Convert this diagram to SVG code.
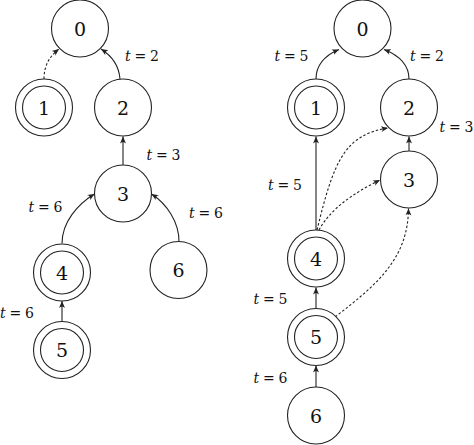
<svg xmlns="http://www.w3.org/2000/svg" width="474" height="445" viewBox="0 0 474 445">
<style>
.n{fill:#fff;stroke:#222;stroke-width:1.1}
.d{font-family:'DejaVu Serif',serif;font-size:19px;text-anchor:middle;fill:#111}
.l{font-family:'DejaVu Serif',serif;font-size:14px;fill:#111}
.e{fill:none;stroke:#222;stroke-width:1.1;marker-end:url(#ah)}
.dash{stroke-dasharray:2.5 2}
</style>
<defs>
<marker id="ah" markerUnits="userSpaceOnUse" markerWidth="8" markerHeight="8" refX="7" refY="4" orient="auto">
<path d="M0,1 Q3,4 0,7 L7,4 Z" fill="#222"/>
</marker>
</defs>
<rect width="474" height="445" fill="#fff"/>
<g id="connectors">
<path class="e dash" d="M44,79 C44,65 50,56 59,49"/>
<path class="e" d="M120,79 C119,66 112,56 101,49"/>
<path class="e" d="M123,165 L123,136.5"/>
<path class="e" d="M62,243.5 C62,222 78,204 94.5,194"/>
<path class="e" d="M179,241.5 C179,222 167,204 151.5,194"/>
<path class="e" d="M62,321.5 L62,301"/>
<path class="e" d="M316,79 C316,64 326,55 339,49.5"/>
<path class="e" d="M409,79 C409,64 398,55 384,49.5"/>
<path class="e" d="M409,151.5 L409,136.5"/>
<path class="e" d="M316,230 L316,136.5"/>
<path class="e dash" d="M317,230 C334,160 345,135 388,128"/>
<path class="e dash" d="M319,230 C330,210 350,195 380,180"/>
<path class="e dash" d="M335,317 C378,284 408,258 408.5,208.5"/>
<path class="e" d="M316,308.5 L316,287.5"/>
<path class="e" d="M316,387 L316,365.5"/>
</g>
<g id="labels">
<text class="l" x="125" y="61" textLength="34" lengthAdjust="spacing"><tspan font-style="italic">t</tspan> = 2</text>
<text class="l" x="146.5" y="160" textLength="34" lengthAdjust="spacing"><tspan font-style="italic">t</tspan> = 3</text>
<text class="l" x="28.5" y="211.5" textLength="34" lengthAdjust="spacing"><tspan font-style="italic">t</tspan> = 6</text>
<text class="l" x="189" y="217.5" textLength="34" lengthAdjust="spacing"><tspan font-style="italic">t</tspan> = 6</text>
<text class="l" x="0" y="317.5" textLength="34" lengthAdjust="spacing"><tspan font-style="italic">t</tspan> = 6</text>
<text class="l" x="274.5" y="61" textLength="34" lengthAdjust="spacing"><tspan font-style="italic">t</tspan> = 5</text>
<text class="l" x="410" y="61" textLength="34" lengthAdjust="spacing"><tspan font-style="italic">t</tspan> = 2</text>
<text class="l" x="439.5" y="131.5" textLength="34" lengthAdjust="spacing"><tspan font-style="italic">t</tspan> = 3</text>
<text class="l" x="268" y="190" textLength="34" lengthAdjust="spacing"><tspan font-style="italic">t</tspan> = 5</text>
<text class="l" x="253.5" y="303.5" textLength="34" lengthAdjust="spacing"><tspan font-style="italic">t</tspan> = 5</text>
<text class="l" x="253.5" y="382.5" textLength="34" lengthAdjust="spacing"><tspan font-style="italic">t</tspan> = 6</text>
</g>
<g id="L0"><circle class="n" cx="80" cy="28.5" r="28.5"/><text class="d" x="80" y="35.5">0</text></g>
<g id="L1"><circle class="n" cx="44" cy="107.5" r="28.5"/><circle class="n" cx="44" cy="107.5" r="21.5"/><text class="d" x="44" y="114.5">1</text></g>
<g id="L2"><circle class="n" cx="123" cy="107.5" r="28.5"/><text class="d" x="123" y="114.5">2</text></g>
<g id="L3"><circle class="n" cx="123" cy="193.5" r="28.5"/><text class="d" x="123" y="200.5">3</text></g>
<g id="L4"><circle class="n" cx="62" cy="272.5" r="28.5"/><circle class="n" cx="62" cy="272.5" r="21.5"/><text class="d" x="62" y="279.5">4</text></g>
<g id="L6"><circle class="n" cx="178.5" cy="270" r="28.5"/><text class="d" x="178.5" y="277">6</text></g>
<g id="L5"><circle class="n" cx="62" cy="350" r="28.5"/><circle class="n" cx="62" cy="350" r="21.5"/><text class="d" x="62" y="357">5</text></g>
<g id="R0"><circle class="n" cx="362.5" cy="28.5" r="28.5"/><text class="d" x="362.5" y="35.5">0</text></g>
<g id="R1"><circle class="n" cx="316" cy="107.5" r="28.5"/><circle class="n" cx="316" cy="107.5" r="21.5"/><text class="d" x="316" y="114.5">1</text></g>
<g id="R2"><circle class="n" cx="409" cy="107.5" r="28.5"/><text class="d" x="409" y="114.5">2</text></g>
<g id="R3"><circle class="n" cx="409" cy="179.5" r="28.5"/><text class="d" x="409" y="186.5">3</text></g>
<g id="R4"><circle class="n" cx="316" cy="258.5" r="28.5"/><circle class="n" cx="316" cy="258.5" r="21.5"/><text class="d" x="316" y="265.5">4</text></g>
<g id="R5"><circle class="n" cx="316" cy="337" r="28.5"/><circle class="n" cx="316" cy="337" r="21.5"/><text class="d" x="316" y="344">5</text></g>
<g id="R6"><circle class="n" cx="316" cy="415.5" r="28.5"/><text class="d" x="316" y="422.5">6</text></g>
</svg>
